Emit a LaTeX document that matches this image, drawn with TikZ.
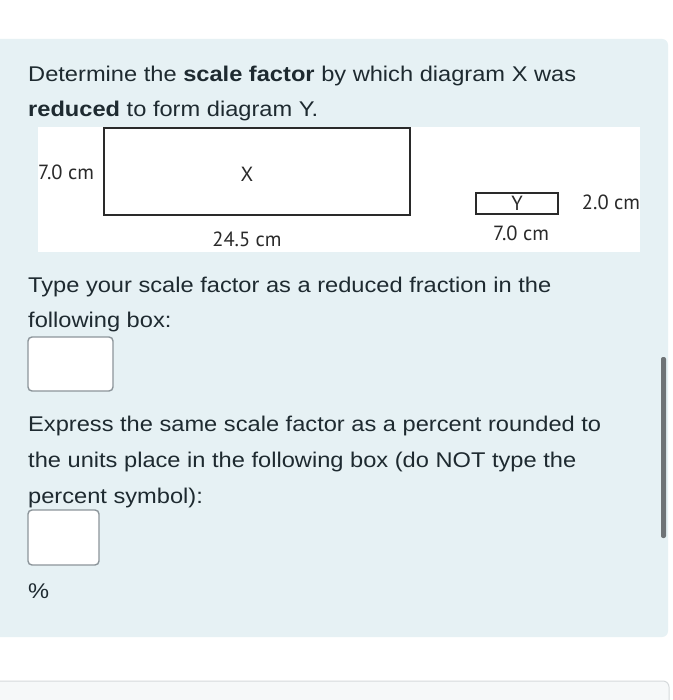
\documentclass[tikz,border=0pt]{standalone}
\usepackage{fontspec}
\setmainfont[FakeStretch=1.11]{Liberation Sans}
\newfontfamily\diagfont{PT Sans}
\definecolor{panelbg}{HTML}{E6F1F4}
\definecolor{txt}{HTML}{1E2A30}
\definecolor{boxline}{HTML}{8C959A}
\definecolor{rectline}{HTML}{2A2A2A}
\definecolor{lowbg}{HTML}{F6F8F9}
\definecolor{lowline}{HTML}{D6DADC}
\definecolor{scroll}{HTML}{6E7376}
\tikzset{
  body/.style={anchor=base west, inner sep=0pt, text=txt, font=\fontsize{21.3}{25}\selectfont},
  dlabel/.style={inner sep=0pt, text=rectline, font=\diagfont\fontsize{20.5}{24}\selectfont},
  inbox/.style={draw=boxline, line width=1.4pt, fill=white, rounded corners=4pt},
  fig/.style={draw=rectline, line width=2pt}
}
\begin{document}
\begin{tikzpicture}[x=1pt,y=-1pt]
\useasboundingbox (0,0) rectangle (672,700);
\fill[white] (0,0) rectangle (672,700);
% main panel
\fill[panelbg, rounded corners=6pt] (-10,39) rectangle (668,637);
% lower panel
\filldraw[fill=lowbg, draw=lowline, line width=1pt, rounded corners=6pt] (-10,681) rectangle (669,720);
% scrollbar
\fill[scroll, rounded corners=2pt] (661,357) rectangle (666,538);
% text
\node[body] (l1) at (28,82) {Determine the \textbf{scale factor} by which diagram X was};
\node[body] (l2) at (28,117) {\textbf{reduced} to form diagram Y.};
% diagram image
\fill[white] (38,127) rectangle (640,252);
\draw[fig] (104,128) rectangle (410,215);
\draw[fig] (476,193) rectangle (558,214);
\node[dlabel] (h1) at (66,172) {7.0 cm};
\node[dlabel] (xl) at (247,174) {X};
\node[dlabel] (w1) at (247,239) {24.5 cm};
\node[dlabel] (yl) at (517,203) {Y};
\node[dlabel] (h2) at (611,202) {2.0 cm};
\node[dlabel] (w2) at (521,233) {7.0 cm};
% question 1
\node[body] (t1) at (28,292) {Type your scale factor as a reduced fraction in the};
\node[body] (t2) at (28,327) {following box:};
\draw[inbox] (28,337) rectangle (113,391);
% question 2
\node[body] (e1) at (28,431) {Express the same scale factor as a percent rounded to};
\node[body] (e2) at (28,467) {the units place in the following box (do NOT type the};
\node[body] (e3) at (28,503) {percent symbol):};
\draw[inbox] (28,510) rectangle (99,565);
\node[body] (pc) at (28,598) {\%};
\end{tikzpicture}
\end{document}
